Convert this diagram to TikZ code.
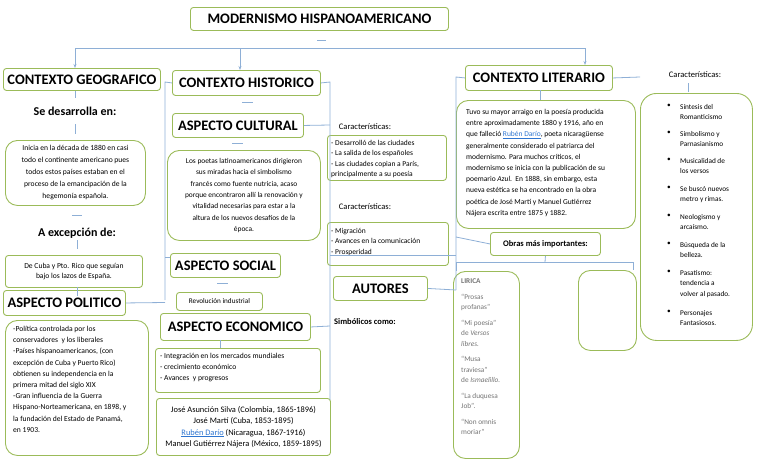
\documentclass[tikz,border=0pt]{standalone}
\usepackage{fontspec}
\setmainfont{Carlito}
\usetikzlibrary{arrows.meta}
\definecolor{gr}{HTML}{9BBB59}
\definecolor{bl}{HTML}{8EAFD6}
\definecolor{lk}{HTML}{2E75D0}
\tikzset{
 box/.style={draw=gr,line width=0.9pt,rounded corners=3pt,anchor=north west,inner sep=2pt,align=center},
 rbox/.style={box,rounded corners=12pt},
 head/.style={box,font=\fontsize{14.5}{16}\selectfont\bfseries},
 txt/.style={font=\fontsize{7.6}{12}\selectfont},
 lab/.style={font=\fontsize{8.5}{9}\selectfont},
 con/.style={draw=bl,line width=0.8pt},
 arr/.style={con,-{Stealth[length=4pt]}},
 tl/.style={anchor=north west,align=left,inner sep=0pt},
}
\begin{document}
\begin{tikzpicture}[x=1pt,y=-1pt]
\useasboundingbox (0,0) rectangle (768,466);
% headings
\node[head,minimum width=258,minimum height=23] (title) at (190,7) {MODERNISMO HISPANOAMERICANO};
\node[head,minimum width=157,minimum height=22] (geo) at (3,68) {CONTEXTO GEOGRAFICO};
\node[head,minimum width=148,minimum height=25] (his) at (172,70) {CONTEXTO HISTORICO};
\node[head,minimum width=147,minimum height=25] (lit) at (465,65) {CONTEXTO LITERARIO};
\node[head,minimum width=131,minimum height=24] (cul) at (172,113) {ASPECTO CULTURAL};
\node[head,minimum width=110,minimum height=24] (soc) at (170,253) {ASPECTO SOCIAL};
\node[head,minimum width=122,minimum height=25] (pol) at (3,290) {ASPECTO POLITICO};
\node[head,minimum width=150,minimum height=27] (eco) at (160,313) {ASPECTO ECONOMICO};
\node[head,minimum width=94,minimum height=24] (aut) at (333,276) {AUTORES};
% labels
\node[font=\fontsize{12}{13}\selectfont\bfseries] (sed) at (75,111) {Se desarrolla en:};
\node[font=\fontsize{12}{13}\selectfont\bfseries] (exc) at (77,233) {A excepción de:};
\node[lab] (car1) at (365,127) {Características:};
\node[lab] (car2) at (365,207) {Características:};
\node[lab] (car3) at (695,75) {Características:};
\node[font=\fontsize{8.5}{9}\selectfont\bfseries] (simb) at (365,322) {Simbólicos como:};
% text boxes
\node[rbox,txt,minimum width=140,minimum height=65] (ini) at (5,140) {Inicia en la década de 1880 en casi\\todo el continente americano pues\\todos estos países estaban en el\\proceso de la emancipación de la\\hegemonía española.};
\node[box,txt,minimum width=137,minimum height=32,font=\fontsize{7.6}{10}\selectfont] (cuba) at (5,255) {De Cuba y Pto. Rico que seguían\\bajo los lazos de España.};
\node[rbox,minimum width=143,minimum height=135] (polt) at (5,320) {};
\node[tl,txt,font=\fontsize{7.6}{11.2}\selectfont] (poltt) at (13,326) {-Política controlada por los\\conservadores\ \ y los liberales\\-Países hispanoamericanos, (con\\excepción de Cuba y Puerto Rico)\\obtienen su independencia en la\\primera mitad del siglo XIX\\-Gran influencia de la Guerra\\Hispano-Norteamericana, en 1898, y\\la fundación del Estado de Panamá,\\en 1903.};
\node[rbox,txt,minimum width=153,minimum height=90,font=\fontsize{7.4}{11.3}\selectfont] (poe) at (167,150) {Los poetas latinoamericanos dirigieron\\sus miradas hacia el simbolismo\\francés como fuente nutricia, acaso\\porque encontraron allí la renovación y\\vitalidad necesarias para estar a la\\altura de los nuevos desafíos de la\\época.};
\node[box,txt,minimum width=86,minimum height=18,inner sep=1pt,font=\fontsize{7.2}{9}\selectfont] (rev) at (176,292) {Revolución industrial};
\node[box,minimum width=165,minimum height=44] (int) at (155,348) {};
\node[tl,txt,font=\fontsize{7.6}{11}\selectfont] (intt) at (160,353) {- Integración en los mercados mundiales\\- crecimiento económico\\- Avances\ \ y progresos};
\node[box,font=\fontsize{8.4}{11.5}\selectfont,minimum width=174,minimum height=57] (autt) at (156,398) {José Asunción Silva (Colombia, 1865-1896)\\José Martí (Cuba, 1853-1895)\\\textcolor{lk}{\underline{Rubén Darío}} (Nicaragua, 1867-1916)\\Manuel Gutiérrez Nájera (México, 1859-1895)};
\node[box,minimum width=119,minimum height=45] (cult) at (327,135) {};
\node[tl,txt,font=\fontsize{7.5}{10.5}\selectfont] (cultt) at (331,140) {- Desarrolló de las ciudades\\- La salida de los españoles\\- Las ciudades copian a París,\\principalmente a su poesía};
\node[box,minimum width=121,minimum height=43] (soct) at (327,222) {};
\node[tl,txt,font=\fontsize{7.5}{10.5}\selectfont] (soctt) at (331,228) {- Migración\\- Avances en la comunicación\\- Prosperidad};
\node[rbox,minimum width=179,minimum height=128] (tuvo) at (456,100) {};
\node[tl,txt,font=\fontsize{7.5}{11.2}\selectfont] (tuvot) at (466,109) {Tuvo su mayor arraigo en la poesía producida\\entre aproximadamente 1880 y 1916, año en\\que falleció \textcolor{lk}{\underline{Rubén Darío}}, poeta nicaragüense\\generalmente considerado el patriarca del\\modernismo. Para muchos críticos, el\\modernismo se inicia con la publicación de su\\poemario \textit{Azul}.\ \ En 1888, sin embargo, esta\\nueva estética se ha encontrado en la obra\\poética de José Martí y Manuel Gutiérrez\\Nájera escrita entre 1875 y 1882.};
\node[box,font=\fontsize{8.5}{9}\selectfont\bfseries,minimum width=110,minimum height=23] (obr) at (490,232) {Obras más importantes:};
\node[rbox,minimum width=66,minimum height=187] (lir) at (453,271) {};
\node[tl,font=\fontsize{7.3}{10.5}\selectfont,color=black!55] (lirt) at (461,279) {\textbf{LIRICA}\\[5pt]“Prosas\\profanas”\\[5pt]“Mi poesía”\\de \textit{Versos}\\\textit{libres.}\\[5pt]“Musa\\traviesa”\\de \textit{Ismaelillo.}\\[5pt]“La duquesa\\Job”.\\[5pt]“Non omnis\\moriar”};
\node[rbox,minimum width=58,minimum height=80] (emp) at (578,270) {};
\node[rbox,rounded corners=16pt,minimum width=112,minimum height=247] (cart) at (640,93) {};
\foreach \y/\t in {104/{Síntesis del\\Romanticismo},131/{Simbolismo y\\Parnasianismo},158/{Musicalidad de\\los versos},186/{Se buscó nuevos\\metro y rimas.},214/{Neologismo y\\arcaísmo.},242/{Búsqueda de la\\belleza.},270/{Pasatismo:\\tendencia a\\volver al pasado.},310/{Personajes\\Fantasiosos.}}{
 \node[tl,font=\fontsize{7.3}{10.5}\selectfont] at (667,\y) {\textbullet};
 \node[tl,font=\fontsize{7.3}{10.5}\selectfont] at (680,\y) {\t};
}
% connectors
\draw[con] (317,40) -- (326,40);
\draw[con] (75,48) -- (585,48);
\draw[arr] (75,48) -- (geo.north -| 75,0);
\draw[arr] (240,48) -- (his.north -| 240,0);
\draw[arr] (585,48) -- (lit.north -| 585,0);
\draw[con] (geo.south -| 75,0) -- (75,98);
\draw[con] (75,124) -- (75,134);
\draw[con] (72,215) -- (82,215);
\draw[con] (77,240) -- (77,249);
\draw[con] (77,287) -- (77,296);
\draw[con] (242,102) -- (253,102);
\draw[con] (232,143) -- (243,143);
\draw[con] (217,283) -- (228,283);
\draw[con] (his.west) -- (165,82) -- (165,300);
\draw[con] (pol.east) -- (165,302.5);
\draw[con] (his.east) -- (330,82) -- (330,400);
\draw[con] (cul.east) -- (330,125);
\draw[con] (eco.east) -- (330,326);
\draw[con] (165,257) -- (170,257);
\draw[con] (220,340) -- (int.north -| 220,0);
\draw[con] (330,255) -- (456,255);
\draw[con] (lit.west) -- (456,77) -- (456,290);
\draw[con] (aut.east) -- (456,290);
\draw[con] (456,237) -- (obr.west);
\draw[con] (lit.east) -- (640,77);
\draw[con] (688,83) -- (688,92);
\draw[con] (540,90) -- (540,100);
\draw[con] (obr.south) -- (545,262);
\draw[con] (456,262) -- (633,262) -- (633,270);
\draw[con] (456,262) -- (456,271);
\end{tikzpicture}
\end{document}
